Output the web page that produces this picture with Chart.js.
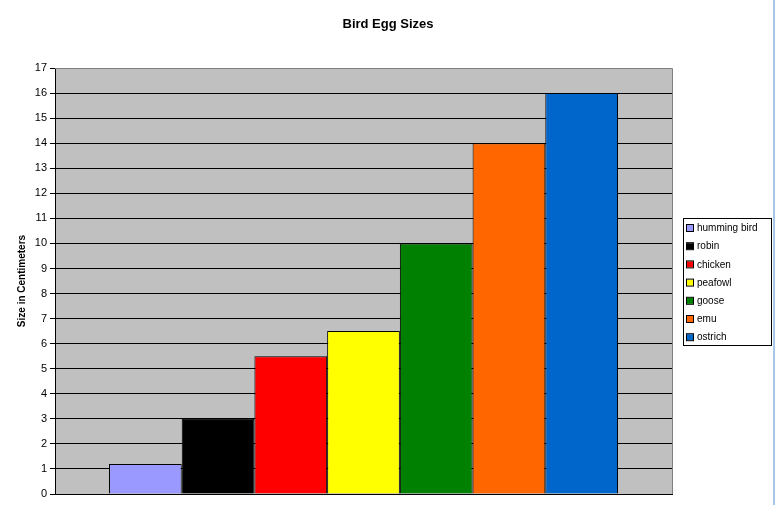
<!DOCTYPE html>
<html>
<head>
<meta charset="utf-8">
<script src="https://cdn.jsdelivr.net/npm/chart.js@4"></script>
<style>
  html, body { margin: 0; padding: 0; background: #fff; }
  #wrap { width: 775px; height: 505px; position: relative; }
</style>
</head>
<body>
<div id="wrap"><canvas id="eggChart"></canvas></div>
<script>
// Data
const birds = ['humming bird', 'robin', 'chicken', 'peafowl', 'goose', 'emu', 'ostrich'];
const sizes = [1.2, 3, 5.5, 6.5, 10, 14, 16];
const colors = ['#9999FF', '#000000', '#FF0000', '#FFFF00', '#008000', '#FF6600', '#0066CC'];
const yTicks = [0, 1, 2, 3, 4, 5, 6, 7, 8, 9, 10, 11, 12, 13, 14, 15, 16, 17];

const FONT = '"Liberation Sans", Arial, sans-serif';

// Gray plot area, border and the boxed legend
const plotFrame = {
    id: 'plotFrame',
    beforeDraw(chart) {
        const { ctx, chartArea: a } = chart;
        ctx.save();
        ctx.fillStyle = '#C0C0C0';
        ctx.fillRect(a.left, a.top, a.right - a.left, a.bottom - a.top);
        ctx.restore();
    },
    afterDraw(chart) {
        const { ctx, chartArea: a } = chart;
        ctx.save();
        // top / right border
        ctx.strokeStyle = '#808080';
        ctx.lineWidth = 1;
        ctx.beginPath();
        ctx.moveTo(a.left, a.top + 0.5);
        ctx.lineTo(a.right + 0.5, a.top + 0.5);
        ctx.lineTo(a.right + 0.5, a.bottom);
        ctx.stroke();

        // title
        ctx.fillStyle = '#000';
        ctx.font = 'bold 13px ' + FONT;
        ctx.textAlign = 'center';
        ctx.textBaseline = 'middle';
        ctx.fillText('Bird Egg Sizes', 388, 24);

        // legend
        const lx = 683, ly = 218, lw = 88, lh = 127;
        ctx.fillStyle = '#fff';
        ctx.fillRect(lx, ly, lw, lh);
        ctx.strokeStyle = '#000';
        ctx.strokeRect(lx + 0.5, ly + 0.5, lw, lh);
        ctx.font = '10px ' + FONT;
        ctx.textAlign = 'left';
        chart.data.datasets.forEach((ds, i) => {
            const y = ly + 10 + i * 18.2;
            ctx.fillStyle = ds.backgroundColor;
            ctx.fillRect(lx + 4, y - 3, 6, 6);
            ctx.strokeStyle = '#000';
            ctx.strokeRect(lx + 3.5, y - 3.5, 7, 7);
            ctx.fillStyle = '#000';
            ctx.fillText(ds.label, lx + 14, y + 0.5);
        });

        // window edge
        ctx.strokeStyle = '#A6C8E6';
        ctx.lineWidth = 2;
        ctx.beginPath();
        ctx.moveTo(774, 0);
        ctx.lineTo(774, 505);
        ctx.stroke();
        ctx.restore();
    }
};

function initChart() {
    const ctx = document.getElementById('eggChart').getContext('2d');
    return new Chart(ctx, {
        type: 'bar',
        data: {
            labels: [''],
            datasets: birds.map((name, i) => ({
                label: name,
                data: [sizes[i]],
                backgroundColor: colors[i],
                borderColor: '#000',
                borderWidth: 1,
                categoryPercentage: 0.825,
                barPercentage: 1
            }))
        },
        options: {
            responsive: true,
            maintainAspectRatio: false,
            animation: false,
            devicePixelRatio: 1,
            layout: {
                padding: { top: 68, right: 103, bottom: 0, left: 0 }
            },
            plugins: {
                legend: { display: false },
                title: { display: false },
                tooltip: { enabled: false }
            },
            scales: {
                x: {
                    ticks: { display: false },
                    grid: { display: false, drawTicks: false },
                    border: { color: '#000' },
                    afterFit: s => { s.height = 11; }
                },
                y: {
                    min: 0,
                    max: 17,
                    afterBuildTicks: s => { s.ticks = yTicks.map(v => ({ value: v })); },
                    ticks: {
                        color: '#000',
                        font: { family: FONT, size: 11 },
                        padding: 3
                    },
                    grid: {
                        color: c => (c.tick && c.tick.value === 17 ? '#808080' : '#000'),
                        tickColor: '#000',
                        tickLength: 5,
                        lineWidth: 1
                    },
                    border: { color: '#000' },
                    title: {
                        display: true,
                        text: 'Size in Centimeters',
                        color: '#000',
                        font: { family: FONT, size: 10, weight: 'bold' },
                        padding: { top: 16, bottom: 0 }
                    },
                    afterFit: s => { s.width = 55; }
                }
            }
        },
        plugins: [plotFrame]
    });
}

document.addEventListener('DOMContentLoaded', () => {
    initChart();
});
</script>
</body>
</html>
